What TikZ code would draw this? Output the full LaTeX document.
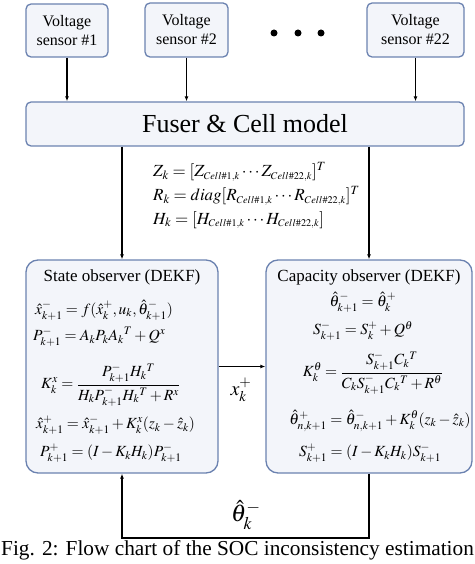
\documentclass[tikz,border=0pt]{standalone}
\usepackage{mathptmx}
\usepackage{fontspec}
\setmainfont{Liberation Serif}
\usetikzlibrary{arrows.meta,positioning,shapes}

\definecolor{boxline}{HTML}{6B82B0}
\definecolor{boxfill}{HTML}{F3F5FA}
\newcommand{\cellsub}[1]{{\scriptscriptstyle #1}}

\begin{document}
\begin{tikzpicture}[x=1pt,y=-1pt,
  box/.style={draw=boxline,fill=boxfill,line width=1.3pt,rounded corners=5pt,inner sep=0pt},
  obs/.style={draw=boxline,fill=boxfill,line width=1.3pt,rounded corners=12pt,inner sep=0pt},
  arr/.style={-{Latex[length=5pt,width=4pt]},line width=1.1pt},
  eq/.style={inner sep=0pt,font=\fontsize{15.5}{18}\selectfont},
  dot/.style={circle,fill=black,inner sep=0pt,minimum size=7pt}]
\useasboundingbox (0,0) rectangle (474,564);
% sensors
\node[box,minimum width=82pt,minimum height=53pt,align=center,font=\fontsize{16}{19}\selectfont] (s1) at (67,30.5) {Voltage\\sensor \#1};
\node[box,minimum width=83pt,minimum height=54pt,align=center,font=\fontsize{16}{19}\selectfont] (s2) at (186.5,30) {Voltage\\sensor \#2};
\node[box,minimum width=97pt,minimum height=54pt,align=center,font=\fontsize{16}{19}\selectfont] (s22) at (415.5,30) {Voltage\\sensor \#22};
\node[dot] (d1) at (274,33) {};
\node[dot] (d2) at (298,33) {};
\node[dot] (d3) at (321,33) {};
% fuser
\node[box,minimum width=438pt,minimum height=44pt,font=\fontsize{26}{30}\selectfont] (fuser) at (245,124) {Fuser \& Cell model};
\draw[arr] (s1) -- (s1 |- fuser.north);
\draw[arr] (s2) -- (s2 |- fuser.north);
\draw[arr] (s22) -- (s22 |- fuser.north);
% measurement vectors
\node[eq,anchor=west,font=\fontsize{17}{20}\selectfont] (zk) at (153,172) {$Z_k=[Z_{\cellsub{Cell\#1,k}}\cdots Z_{\cellsub{Cell\#22,k}}]^T$};
\node[eq,anchor=west,font=\fontsize{17}{20}\selectfont] (rk) at (153,196) {$R_k=diag[R_{\cellsub{Cell\#1,k}}\cdots R_{\cellsub{Cell\#22,k}}]^T$};
\node[eq,anchor=west,font=\fontsize{17}{20}\selectfont] (hk) at (153,220) {$H_k=[H_{\cellsub{Cell\#1,k}}\cdots H_{\cellsub{Cell\#22,k}}]$};
% observers
\node[obs,minimum width=192pt,minimum height=213pt] (state) at (122,366.5) {};
\node[obs,minimum width=206pt,minimum height=213pt] (cap) at (369,366.5) {};
\draw[arr] (fuser.south -| state.north) -- (state.north);
\draw[arr] (fuser.south -| cap.north) -- (cap.north);
% state observer
\node[eq,font=\fontsize{17}{20}\selectfont] (sttl) at (122,277) {State observer (DEKF)};
\node[eq,anchor=west] (st1) at (35,310) {$\hat{x}^-_{k+1}=f(\hat{x}^+_k,u_k,\hat{\theta}^-_{k+1})$};
\node[eq,anchor=west] (st2) at (33,337) {$P^-_{k+1}=A_kP_kA_k{}^T+Q^x$};
\node[eq,anchor=west] (st3) at (41,385) {$\displaystyle K^x_k=\frac{P^-_{k+1}H_k{}^T}{H_kP^-_{k+1}H_k{}^T+R^x}$};
\node[eq,anchor=west] (st4) at (36,425) {$\hat{x}^+_{k+1}=\hat{x}^-_{k+1}+K^x_k(z_k-\hat{z}_k)$};
\node[eq,anchor=west] (st5) at (40,453) {$P^+_{k+1}=(I-K_kH_k)P^-_{k+1}$};
% capacity observer
\node[eq,font=\fontsize{17}{20}\selectfont] (cttl) at (369,277) {Capacity observer (DEKF)};
\node[eq] (cp1) at (363,302) {$\hat{\theta}^-_{k+1}=\hat{\theta}^+_k$};
\node[eq] (cp2) at (363,331) {$S^-_{k+1}=S^+_k+Q^\theta$};
\node[eq] (cp3) at (373,373) {$\displaystyle K^\theta_k=\frac{S^-_{k+1}C_k{}^T}{C_kS^-_{k+1}C_k{}^T+R^\theta}$};
\node[eq] (cp4) at (380,421) {$\hat{\theta}^+_{n,k+1}=\hat{\theta}^-_{n,k+1}+K^\theta_k(z_k-\hat{z}_k)$};
\node[eq] (cp5) at (370,453) {$S^+_{k+1}=(I-K_kH_k)S^-_{k+1}$};
% links between observers
\draw[arr] (state.east) -- (cap.west);
\node[eq,font=\fontsize{20}{24}\selectfont] (xk) at (241,390) {$x^+_k$};
\coordinate (fb) at (245,538);
\draw[arr] (cap.south) |- (fb) -| (state.south);
\node[eq,font=\fontsize{24}{28}\selectfont] (th) at (246,515) {$\hat{\theta}^-_k$};
% caption
\node[anchor=west,inner sep=0pt,font=\fontsize{21.3}{25}\selectfont] (cap1) at (1,550) {Fig. 2: Flow chart of the SOC inconsistency estimation};
\end{tikzpicture}
\end{document}
